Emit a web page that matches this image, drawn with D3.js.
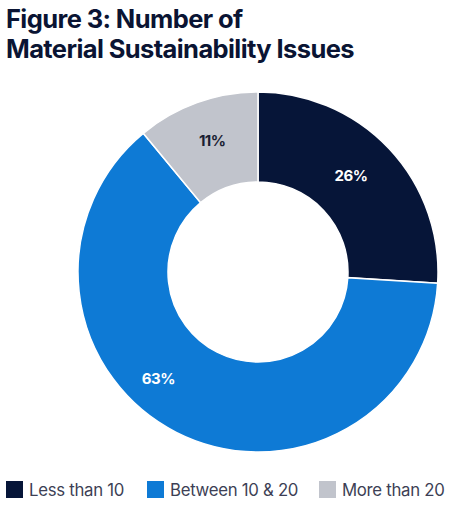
<!DOCTYPE html>
<meta charset="utf-8">
<style>
body { margin: 0; background: #fff; }
.title { font-family: Inter, "Noto Sans", sans-serif; font-weight: 700; font-size: 25.5px; fill: #0a1433; letter-spacing: -0.6px; }
.legend-label { font-family: Inter, "Noto Sans", sans-serif; font-size: 16.8px; fill: #3d3f55; letter-spacing: -0.3px; }
.slice-label { font-family: Inter, "Noto Sans", sans-serif; font-weight: 700; font-size: 15px; letter-spacing: -0.5px; }
</style>
<body>
<script src="https://d3js.org/d3.v7.min.js"></script>
<script>

var width = 451,
    height = 508;

// data
var categories = ["Less than 10", "Between 10 & 20", "More than 20"];
var values = [26, 63, 11];
var colors = ["#061538", "#0e7ad5", "#c1c4cc"];
var labelColors = ["#ffffff", "#ffffff", "#1a1f33"];

var svg = d3.select("body").append("svg")
    .attr("width", width)
    .attr("height", height);

// title
svg.append("text").attr("class", "title").attr("x", 6).attr("y", 28).text("Figure 3: Number of");
svg.append("text").attr("class", "title").attr("x", 6).attr("y", 58).text("Material Sustainability Issues");

var cx = 258, cy = 272,
    outerR = 180, innerR = 90;

var pie = d3.pie().sort(null).value(function(d) { return d; });
var arc = d3.arc().innerRadius(innerR).outerRadius(outerR);

// label placement tweaks (angle nudge in radians, radius) - labels sit a bit off centroid
var labelNudge = [[-0.05, 134], [0.28, 146], [0.01, 139]];

var g = svg.append("g").attr("transform", "translate(" + cx + "," + cy + ")");
var arcs = pie(values);

g.selectAll("path")
    .data(arcs)
    .enter()
    .append("path")
    .attr("d", arc)
    .attr("fill", function(d, i) { return colors[i]; })
    .attr("stroke", "#fff")
    .attr("stroke-width", 1.5);

g.selectAll("text")
    .data(arcs)
    .enter()
    .append("text")
    .attr("class", "slice-label")
    .attr("transform", function(d, i) {
        var a = (d.startAngle + d.endAngle) / 2 + labelNudge[i][0],
            r = labelNudge[i][1];
        return "translate(" + (r * Math.sin(a)) + "," + (-r * Math.cos(a)) + ")";
    })
    .attr("text-anchor", "middle")
    .attr("dy", "0.35em")
    .attr("fill", function(d, i) { return labelColors[i]; })
    .text(function(d) { return d.data + "%"; });

// legend
var legendX = [6, 147, 319];
var legend = svg.append("g").selectAll("g")
    .data(categories)
    .enter()
    .append("g")
    .attr("transform", function(d, i) { return "translate(" + legendX[i] + ",481)"; });

legend.append("rect")
    .attr("width", 17)
    .attr("height", 17)
    .attr("fill", function(d, i) { return colors[i]; });

legend.append("text")
    .attr("class", "legend-label")
    .attr("x", 23)
    .attr("y", 15)
    .text(function(d) { return d; });

</script>
